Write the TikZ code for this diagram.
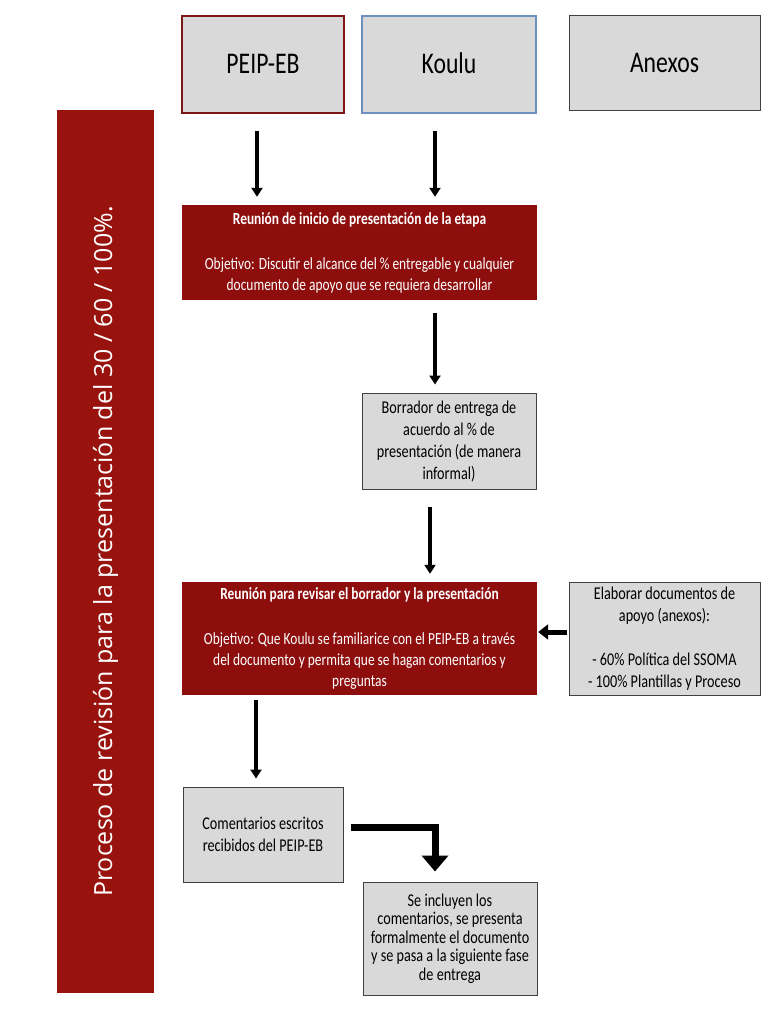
\documentclass[tikz,border=0pt]{standalone}
\usepackage{fontspec}
\setmainfont{Carlito}[FakeStretch=0.79]
\newfontfamily\barfont{Open Sans}
\usetikzlibrary{arrows.meta}
\definecolor{myred}{RGB}{142,14,14}
\definecolor{barred}{RGB}{152,18,14}
\definecolor{mygray}{RGB}{217,217,217}
\definecolor{peipred}{RGB}{122,24,24}
\definecolor{koulublue}{RGB}{110,144,192}
\newcommand\boxtxt{\fontsize{18pt}{22pt}\selectfont}
\newcommand\redtxt{\fontsize{17pt}{21pt}\selectfont}

\begin{document}
\begin{tikzpicture}[x=1pt,y=-1pt]
  \useasboundingbox (0,0) rectangle (768,1024);

  \tikzstyle{head}=[fill=mygray,font={\fontsize{30pt}{34pt}\selectfont},minimum height=97pt,
                    text height=19pt,text depth=0pt,inner sep=0pt]
  \tikzstyle{redbox}=[fill=myred,text=white,font=\redtxt,align=center,minimum width=355pt,inner sep=0pt]
  \tikzstyle{graybox}=[draw=black!75,line width=1pt,fill=mygray,font=\boxtxt,align=center,inner sep=0pt]
  \tikzstyle{arr}=[line width=3.5pt,-{Triangle[width=11pt,length=9pt]},shorten <=17pt,shorten >=8pt]

  % side bar
  \node[fill=barred,text=white,rotate=90,minimum width=883pt,minimum height=97pt,inner sep=0pt,
        font={\barfont\fontsize{25pt}{30pt}\selectfont}] (bar) at (105.5,551.5)
        {Proceso de revisión para la presentación del 30 / 60 / 100\%.};

  % columns
  \node[head,draw=peipred,line width=2pt,minimum width=162pt] (peip) at (263,64.5) {PEIP-EB};
  \node[head,draw=koulublue,line width=2.5pt,minimum width=174pt] (koulu) at (449,64.5) {Koulu};
  \node[head,draw=black!75,line width=1pt,minimum width=191pt,minimum height=95pt] (anexos) at (664.5,63.5) {Anexos};

  % steps
  \node[redbox,minimum height=95pt] (reunion1) at (359.5,252.5)
    {{\bfseries Reunión de inicio de presentación de la etapa}\\[24pt]
     Objetivo: Discutir el alcance del \% entregable y cualquier\\
     documento de apoyo que se requiera desarrollar};
  \node[graybox,minimum width=174pt,minimum height=96pt] (borrador) at (449,441)
    {Borrador de entrega de\\ acuerdo al \% de\\ presentación (de manera\\ informal)};
  \node[redbox,minimum height=113pt] (reunion2) at (359.5,638.5)
    {{\bfseries Reunión para revisar el borrador y la presentación}\\[24pt]
     Objetivo: Que Koulu se familiarice con el PEIP-EB a través\\
     del documento y permita que se hagan comentarios y\\ preguntas};
  \node[graybox,minimum width=191pt,minimum height=113pt] (apoyo) at (664.5,638.5)
    {Elaborar documentos de\\ apoyo (anexos):\\[22pt] - 60\% Política del SSOMA\\ - 100\% Plantillas y Proceso};
  \node[graybox,minimum width=160pt,minimum height=95pt] (coment) at (263,834.5)
    {Comentarios escritos\\ recibidos del PEIP-EB};
  \node[graybox,minimum width=174pt,minimum height=113pt,font={\fontsize{18pt}{18.5pt}\selectfont}] (incluyen) at (450,938.5)
    {Se incluyen los\\ comentarios, se presenta\\ formalmente el documento\\ y se pasa a la siguiente fase\\ de entrega};

  % arrows
  \draw[arr] ([xshift=-6pt]peip.south) -- ([xshift=-6pt]peip.south |- reunion1.north);
  \draw[arr] ([xshift=-14pt]koulu.south) -- ([xshift=-14pt]koulu.south |- reunion1.north);
  \draw[arr,shorten <=13pt] ([xshift=-14pt]borrador.north |- reunion1.south) -- ([xshift=-14pt]borrador.north);
  \draw[arr] ([xshift=-19pt]borrador.south) -- ([xshift=-19pt]borrador.south |- reunion2.north);
  \draw[arr,shorten <=5pt] ([xshift=-7pt]coment.north |- reunion2.south) -- ([xshift=-7pt]coment.north);
  \draw[line width=5pt,-{Triangle[width=15pt,length=10pt]},shorten <=2pt,shorten >=1pt]
    ([yshift=6.5pt]apoyo.west) -- ([yshift=6.5pt]reunion2.east);
  \draw[line width=7pt,-{Triangle[width=26pt,length=16pt]},shorten <=7pt,shorten >=10pt]
    ([yshift=7.5pt]coment.east) -| ([xshift=-15pt]incluyen.north);
\end{tikzpicture}
\end{document}
